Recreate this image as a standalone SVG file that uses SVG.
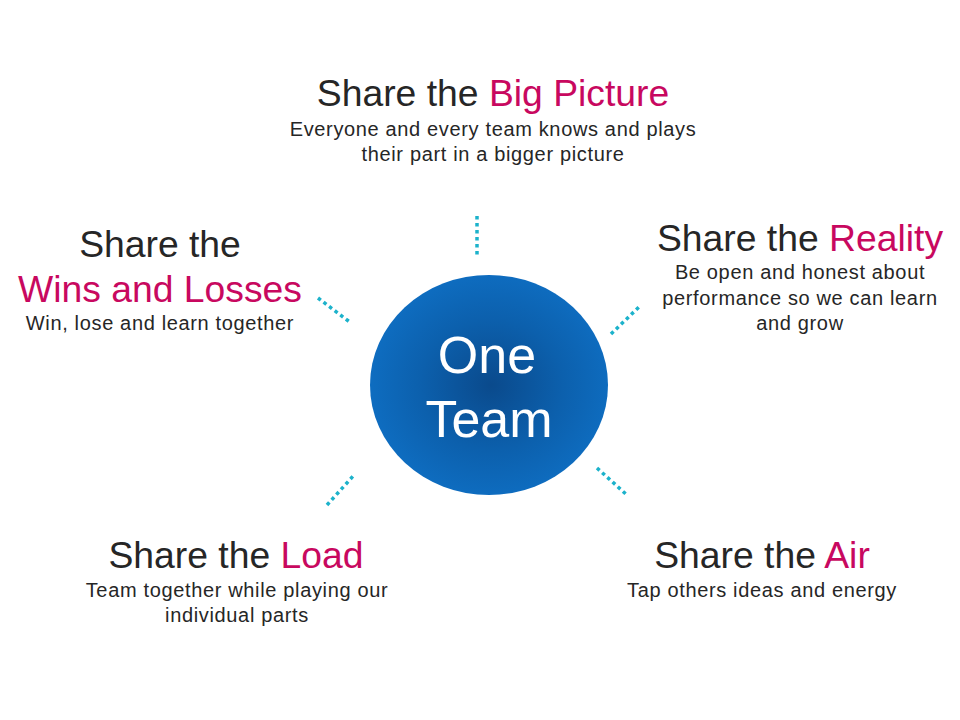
<svg xmlns="http://www.w3.org/2000/svg" width="960" height="720" viewBox="0 0 960 720">
<defs>
<radialGradient id="g" cx="0.51" cy="0.5" r="0.5">
<stop offset="0" stop-color="#0a4a8c"/>
<stop offset="0.6" stop-color="#0c60ad"/>
<stop offset="1" stop-color="#0e6cbf"/>
</radialGradient>
</defs>
<style>
.h{font-family:"Liberation Sans",Arial,sans-serif;font-size:37.3px;fill:#262626;text-anchor:middle}
.b{font-family:"Liberation Sans",Arial,sans-serif;font-size:20px;letter-spacing:0.65px;fill:#262626;text-anchor:middle}
.p{fill:#c8085f}
.d{stroke:#1cb2cb;stroke-width:3.5;stroke-dasharray:3.5 3.5;fill:none}
.c{font-family:"Liberation Sans",Arial,sans-serif;font-size:52px;fill:#fff;text-anchor:middle}
</style>
<rect width="960" height="720" fill="#fff"/>
<g id="connectors">
<line class="d" x1="477" y1="216" x2="477" y2="257"/>
<line class="d" x1="318" y1="298" x2="351" y2="323"/>
<line class="d" x1="611" y1="334" x2="640" y2="306"/>
<line class="d" x1="327" y1="505" x2="355" y2="474"/>
<line class="d" x1="597" y1="468" x2="628" y2="496"/>
</g>
<g id="center">
<ellipse cx="489" cy="385" rx="119" ry="110" fill="url(#g)"/>
<text class="c" x="487" y="373">One</text>
<text class="c" x="489" y="437">Team</text>
</g>
<g id="big-picture">
<text class="h" x="493" y="106">Share the <tspan class="p">Big Picture</tspan></text>
<text class="b" x="493" y="136">Everyone and every team knows and plays</text>
<text class="b" x="493" y="161">their part in a bigger picture</text>
</g>
<g id="wins-losses">
<text class="h" x="160" y="257">Share the</text>
<text class="h p" x="160" y="302">Wins and Losses</text>
<text class="b" x="160" y="330">Win, lose and learn together</text>
</g>
<g id="reality">
<text class="h" x="800" y="251">Share the <tspan class="p">Reality</tspan></text>
<text class="b" x="800" y="279">Be open and honest about</text>
<text class="b" x="800" y="305">performance so we can learn</text>
<text class="b" x="800" y="330">and grow</text>
</g>
<g id="load">
<text class="h" x="236" y="568">Share the <tspan class="p">Load</tspan></text>
<text class="b" x="237" y="597">Team together while playing our</text>
<text class="b" x="237" y="622">individual parts</text>
</g>
<g id="air">
<text class="h" x="762" y="568">Share the <tspan class="p">Air</tspan></text>
<text class="b" x="762" y="597">Tap others ideas and energy</text>
</g>
</svg>
